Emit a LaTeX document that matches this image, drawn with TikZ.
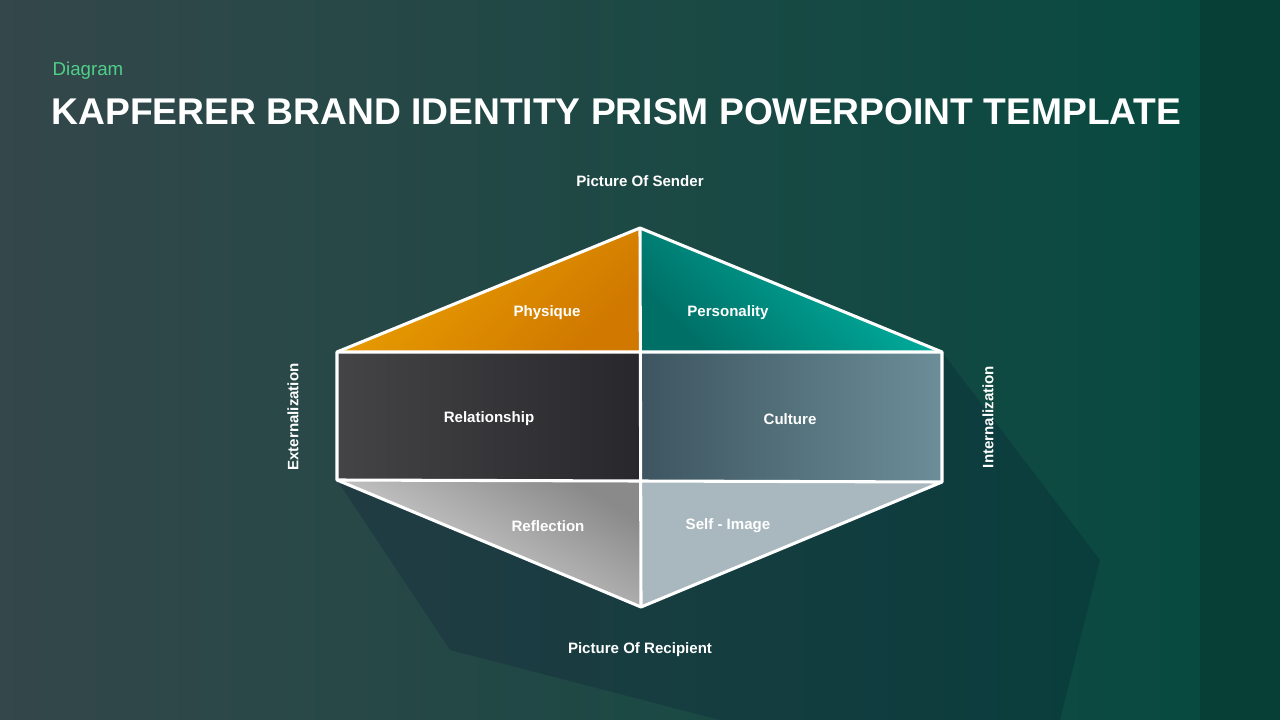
\documentclass[tikz,border=0pt]{standalone}
\usepackage{fontspec}
\setmainfont{Liberation Sans}
\begin{document}
\begin{tikzpicture}[x=0.75pt,y=-0.75pt,
  lbl/.style={text=white,font=\bfseries\fontsize{11.3}{13}\selectfont},
  face/.style={draw=white,line width=2.3pt,line join=round}]
\definecolor{bgl}{HTML}{34474A}\definecolor{bgr}{HTML}{084A40}
\shade[left color=bgl,right color=bgr] (0,0) rectangle (1200,720);
\fill[color=bgr!85!black] (1200,0) rectangle (1280,720);
\useasboundingbox (0,0) rectangle (1280,720);
% shadow
\fill[black!40!blue!30!black,opacity=0.16] (337,480) -- (450,650) -- (720,720) -- (1060,720) -- (1100,560) -- (942,352) -- (942,482) -- (641,607) -- cycle;
% faces
\definecolor{o1}{HTML}{ECA300}\definecolor{o2}{HTML}{D07800}
\definecolor{t1}{HTML}{00BBAA}\definecolor{t2}{HTML}{006F66}
\definecolor{r1}{HTML}{444446}\definecolor{r2}{HTML}{28282C}
\definecolor{c1}{HTML}{3D5560}\definecolor{c2}{HTML}{6C8E98}
\definecolor{g1}{HTML}{E2E2E2}\definecolor{g2}{HTML}{8A8A8A}
\definecolor{s1}{HTML}{A8B8BE}
\shade[top color=o1,bottom color=o2,shading angle=45] (640,228) -- (337,352) -- (640,352) -- cycle;
\shade[top color=t1,bottom color=t2,shading angle=-45] (640,228) -- (942,352) -- (640,352) -- cycle;
\shade[left color=r1,right color=r2] (337,352) rectangle (640,480);
\shade[left color=c1,right color=c2] (640,352) rectangle (942,482);
\shade[top color=g2,bottom color=g1,shading angle=-30] (337,480) -- (641,482) -- (641,607) -- cycle;
\fill[s1] (641,482) -- (942,482) -- (641,607) -- cycle;
\draw[face] (640,228) -- (942,352) -- (942,482) -- (641,607) -- (337,480) -- (337,352) -- cycle;
\draw[face] (337,352) -- (942,352) (337,480) -- (942,482) (640,228) -- (641,607);
% text
\definecolor{gr}{HTML}{4FD08A}
\node[anchor=west,text=gr,font=\fontsize{14}{16}\selectfont] (d) at (48,71) {Diagram};
\node[anchor=west,text=white,font=\bfseries\fontsize{27.9}{32}\selectfont] (t) at (47,112) {KAPFERER BRAND IDENTITY PRISM POWERPOINT TEMPLATE};
\node[lbl] (ps) at (640,181) {Picture Of Sender};
\node[lbl] (pr) at (640,650) {Picture Of Recipient};
\node[lbl,rotate=90] (ex) at (293,417) {Externalization};
\node[lbl,rotate=90] (in) at (988,417) {Internalization};
\node[lbl] (a) at (547,313) {Physique};
\node[lbl] (b) at (728,313) {Personality};
\node[lbl] (c) at (489,419) {Relationship};
\node[lbl] (e) at (790,419) {Culture};
\node[lbl] (f) at (548,526) {Reflection};
\node[lbl] (g) at (728,526) {Self - Image};
\end{tikzpicture}
\end{document}
